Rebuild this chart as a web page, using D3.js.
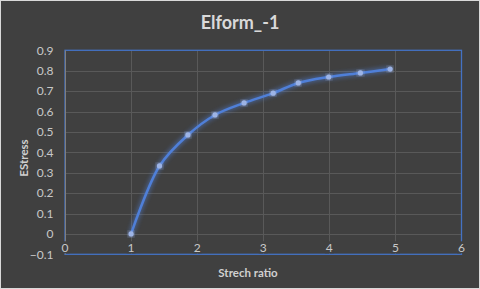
<!DOCTYPE html>
<html><head><meta charset="utf-8">
<script src="https://cdn.jsdelivr.net/npm/d3@7"></script>
<style>html,body{margin:0;padding:0;background:#404040;}svg{display:block;}</style>
</head><body>
<script>
const title = "Elform_-1";
const xLabel = "Strech ratio";
const yLabel = "EStress";
const stretch = [1, 1.43, 1.86, 2.27, 2.71, 3.15, 3.53, 3.99, 4.47, 4.92];
const estress = [0, 0.333, 0.485, 0.583, 0.642, 0.690, 0.740, 0.769, 0.789, 0.808];
const xTicks = [0, 1, 2, 3, 4, 5, 6];
const yTicks = [-0.1, 0, 0.1, 0.2, 0.3, 0.4, 0.5, 0.6, 0.7, 0.8, 0.9];

const W = 480, H = 289;
const m = {left: 65, right: 18.5, top: 50.3, bottom: 34.7};
const font = "Lato, 'Open Sans', sans-serif";

const svg = d3.select("body").append("svg").attr("width", W).attr("height", H);
svg.append("rect").attr("x", 0.5).attr("y", 0.5).attr("width", W - 1).attr("height", H - 1)
  .attr("fill", "#404040").attr("stroke", "#d9d9d9").attr("stroke-width", 1);

const defs = svg.append("defs");
const f = defs.append("filter").attr("id", "glow").attr("x", "-20%").attr("y", "-20%").attr("width", "140%").attr("height", "140%");
f.append("feGaussianBlur").attr("in", "SourceGraphic").attr("stdDeviation", 2.5).attr("result", "b");
const mg = f.append("feMerge");
mg.append("feMergeNode").attr("in", "b");
mg.append("feMergeNode").attr("in", "SourceGraphic");

const x = d3.scaleLinear().domain([0, 6]).range([m.left, W - m.right]);
const y = d3.scaleLinear().domain([-0.1, 0.9]).range([H - m.bottom, m.top]);

// gridlines
svg.append("g").selectAll("line").data(yTicks.filter(v => v > -0.05 && v < 0.85)).join("line")
  .attr("x1", x(0)).attr("x2", x(6)).attr("y1", d => Math.round(y(d)) + 0.5).attr("y2", d => Math.round(y(d)) + 0.5)
  .attr("stroke", "#595959").attr("stroke-width", 1);
svg.append("g").selectAll("line").data(xTicks.filter(v => v > 0 && v < 6)).join("line")
  .attr("x1", d => Math.round(x(d)) + 0.5).attr("x2", d => Math.round(x(d)) + 0.5)
  .attr("y1", y(0.9)).attr("y2", y(-0.1))
  .attr("stroke", "#595959").attr("stroke-width", 1);

// plot border
svg.append("rect").attr("x", x(0)).attr("y", y(0.9)).attr("width", x(6) - x(0)).attr("height", y(-0.1) - y(0.9))
  .attr("fill", "none").attr("stroke", "#4472c4").attr("stroke-width", 1.3);
// value axis line
svg.append("line").attr("x1", x(0) + 0.5).attr("x2", x(0) + 0.5).attr("y1", y(0.9)).attr("y2", y(-0.1))
  .attr("stroke", "#7f7f7f").attr("stroke-width", 1);

// y tick labels
svg.append("g").selectAll("text").data(yTicks).join("text")
  .attr("x", 53.5).attr("y", d => y(d)).attr("dy", "0.35em").attr("text-anchor", "end")
  .attr("font-family", font).attr("font-size", 12).attr("fill", "#c8c8c8")
  .text(d => d3.format(".1~f")(d));

// x tick labels with background
const xl = svg.append("g").selectAll("g").data(xTicks).join("g");
xl.append("rect").attr("x", d => x(d) - 4.5).attr("y", y(-0.1) - 13).attr("width", 9).attr("height", 12)
  .attr("fill", "#404040");
xl.append("text").attr("x", d => x(d)).attr("y", y(-0.1) - 2.5).attr("text-anchor", "middle")
  .attr("font-family", font).attr("font-size", 12).attr("fill", "#c8c8c8").text(d => d);

// line
const line = d3.line().x((d, i) => x(stretch[i])).y(d => y(d)).curve(d3.curveCatmullRom.alpha(0.5));
svg.append("path").datum(estress).attr("d", line).attr("fill", "none")
  .attr("stroke", "#4f7fd8").attr("stroke-width", 2.5).attr("filter", "url(#glow)");
svg.append("g").selectAll("circle").data(estress).join("circle")
  .attr("cx", (d, i) => x(stretch[i])).attr("cy", d => y(d)).attr("r", 2.6)
  .attr("fill", "#9db4e6").attr("filter", "url(#glow)");

// titles
svg.append("text").attr("x", 240).attr("y", 29).attr("text-anchor", "middle")
  .attr("font-family", font).attr("font-weight", "bold").attr("font-size", 18).attr("fill", "#d9d9d9").text(title);
svg.append("text").attr("x", 248).attr("y", 277).attr("text-anchor", "middle")
  .attr("font-family", font).attr("font-weight", "bold").attr("font-size", 11.5).attr("fill", "#d0d0d0").text(xLabel);
svg.append("text").attr("transform", "translate(28,158) rotate(-90)").attr("text-anchor", "middle")
  .attr("font-family", font).attr("font-weight", "bold").attr("font-size", 11.5).attr("fill", "#d0d0d0").text(yLabel);
</script>
</body></html>
